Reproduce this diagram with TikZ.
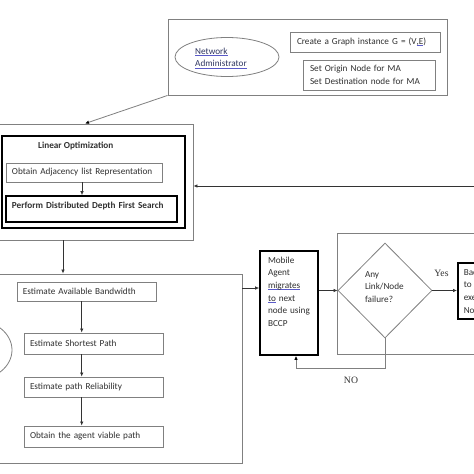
\documentclass[tikz,border=0pt]{standalone}
\usepackage{fontspec}
\setmainfont{Carlito}
\newfontfamily\timesf{Liberation Serif}
\usetikzlibrary{shapes.geometric,arrows.meta}
\definecolor{lg}{HTML}{808080}
\definecolor{tx}{HTML}{303030}
\definecolor{ulblue}{HTML}{5A5AC8}
\definecolor{natx}{HTML}{2E3560}
\newsavebox\myulbox
\newcommand\spellul[1]{\sbox\myulbox{#1}\leavevmode\rlap{\textcolor{ulblue}{\rule[-0.3ex]{\wd\myulbox}{0.5pt}}}\usebox\myulbox}
\begin{document}
\begin{tikzpicture}[x=1pt,y=-1pt,
  gbox/.style={draw=lg, line width=0.9pt, rectangle},
  tbox/.style={draw=black, line width=1.6pt, rectangle},
  txt/.style={font=\fontsize{9.2}{12.7}\selectfont, text=tx, align=left, inner sep=0pt},
  btxt/.style={txt, font=\fontsize{9.2}{12.7}\selectfont\bfseries},
  lbl/.style={font=\timesf\fontsize{9.7}{11}\selectfont, text=tx, inner sep=0pt},
  arr/.style={draw=black!80, line width=0.7pt, -{Latex[length=4pt,width=3.5pt]}},
  garr/.style={draw=lg, line width=0.8pt, -{Latex[length=4pt,width=3.5pt,color=black]}}]
\useasboundingbox (0,0) rectangle (474,474);
\clip (0,0) rectangle (474,474);
\fill[white] (0,0) rectangle (474,474);

% top group
\node[gbox, minimum width=279pt, minimum height=76pt, inner sep=0pt] (top) at (307.5,57) {};
\node[draw=lg, line width=0.8pt, ellipse, minimum width=104pt, minimum height=39pt, inner sep=0pt] (na) at (227,57) {};
\node[txt, text=natx] (natext) at (221,58) {\spellul{Network}\\\spellul{Administrator}};
\node[gbox, txt, minimum height=20pt, text width=136pt, inner xsep=7pt] (graph) at (365,42) {Create a Graph instance G = (V\spellul{,E})};
\node[gbox, txt, minimum height=30pt, text width=118pt, inner xsep=7pt] (orig) at (369,75) {Set Origin Node for MA\\Set Destination node for MA};

% linear optimization group
\node[gbox, minimum width=198pt, minimum height=116pt, inner sep=0pt] (lin) at (94,182) {};
\node[tbox, minimum width=183pt, minimum height=92pt, inner sep=0pt] (linin) at (93.5,182) {};
\node[btxt, anchor=west] (lintitle) at (38,146) {Linear Optimization};
\node[gbox, txt, minimum height=19pt, text width=144pt, inner xsep=6pt] (adj) at (84,172.5) {Obtain Adjacency list Representation};
\node[tbox, btxt, minimum height=26pt, text width=159pt, inner xsep=6pt, text height=7pt, text depth=9pt] (dfs) at (91.5,209) {Perform Distributed Depth First Search};

% lower group
\node[gbox, minimum width=247pt, minimum height=189pt, inner sep=0pt] (low) at (118.5,368.5) {};
\node[draw=lg, line width=0.8pt, ellipse, minimum width=74pt, minimum height=60pt, inner sep=0pt] (le) at (-25,350) {};
\node[gbox, txt, minimum height=19pt, text width=127pt, inner xsep=6pt] (bw) at (86.5,291.5) {Estimate Available Bandwidth};
\node[gbox, txt, minimum height=21pt, text width=127pt, inner xsep=6pt] (sp) at (93.5,343.5) {Estimate Shortest Path};
\node[gbox, txt, minimum height=20pt, text width=127pt, inner xsep=6pt] (rel) at (93.5,387) {Estimate path Reliability};
\node[gbox, txt, minimum height=21pt, text width=127pt, inner xsep=6pt] (via) at (93.5,436.5) {Obtain the agent viable path};

% mobile agent and failure check
\node[tbox, txt, minimum height=104pt, text width=42pt, inner xsep=8pt, text height=7pt, text depth=87pt] (mob) at (289,303) {Mobile\\Agent\\\spellul{migrates}\\\spellul{to} next\\node using\\BCCP};
\node[gbox, minimum width=163pt, minimum height=121pt, inner sep=0pt] (fbox) at (418.5,293.5) {};
\node[draw=lg, line width=0.8pt, diamond, txt, text width=40pt, minimum width=94pt, minimum height=95pt, text height=7pt, text depth=34pt] (dia) at (385,290.5) {Any\\Link/Node\\failure?};
\node[tbox, txt, minimum height=56pt, text width=51pt, inner xsep=6pt, anchor=west] (bt) at (457,291) {Backtrack\\to previous\\executed\\Node};

% labels
\node[lbl] (yes) at (441.5,273) {Yes};
\node[lbl] (no) at (351,380) {NO};

% helper coordinates
\coordinate (tx) at (85,0);
\coordinate (lx) at (63,0);
\coordinate (ax) at (81.7,0);
\coordinate (rin) at (480,186);
\coordinate (my) at (0,288);
\coordinate (nob) at (0,368);

% connectors
\draw[garr] (top.south west) -- (lin.north -| tx);
\draw[arr] (rin) -- (rin -| lin.east);
\draw[arr] ([xshift=-2pt]adj.south) -- ([xshift=-2pt]adj.south |- dfs.north);
\draw[arr] (lin.south -| lx) -- (low.north -| lx);
\draw[arr] (bw.south -| ax) -- (sp.north -| ax);
\draw[arr] (sp.south -| ax) -- (rel.north -| ax);
\draw[arr] (rel.south -| ax) -- (via.north -| ax);
\draw[arr] (low.east |- my) -- (mob.west |- my);
\draw[arr] (mob.east |- dia.west) -- (dia.west);
\draw[arr] (dia.east) -- (dia.east -| bt.west);
\draw[garr] (dia.south) -- (dia.south |- nob) -| ([xshift=7pt]mob.south);
\end{tikzpicture}
\end{document}
